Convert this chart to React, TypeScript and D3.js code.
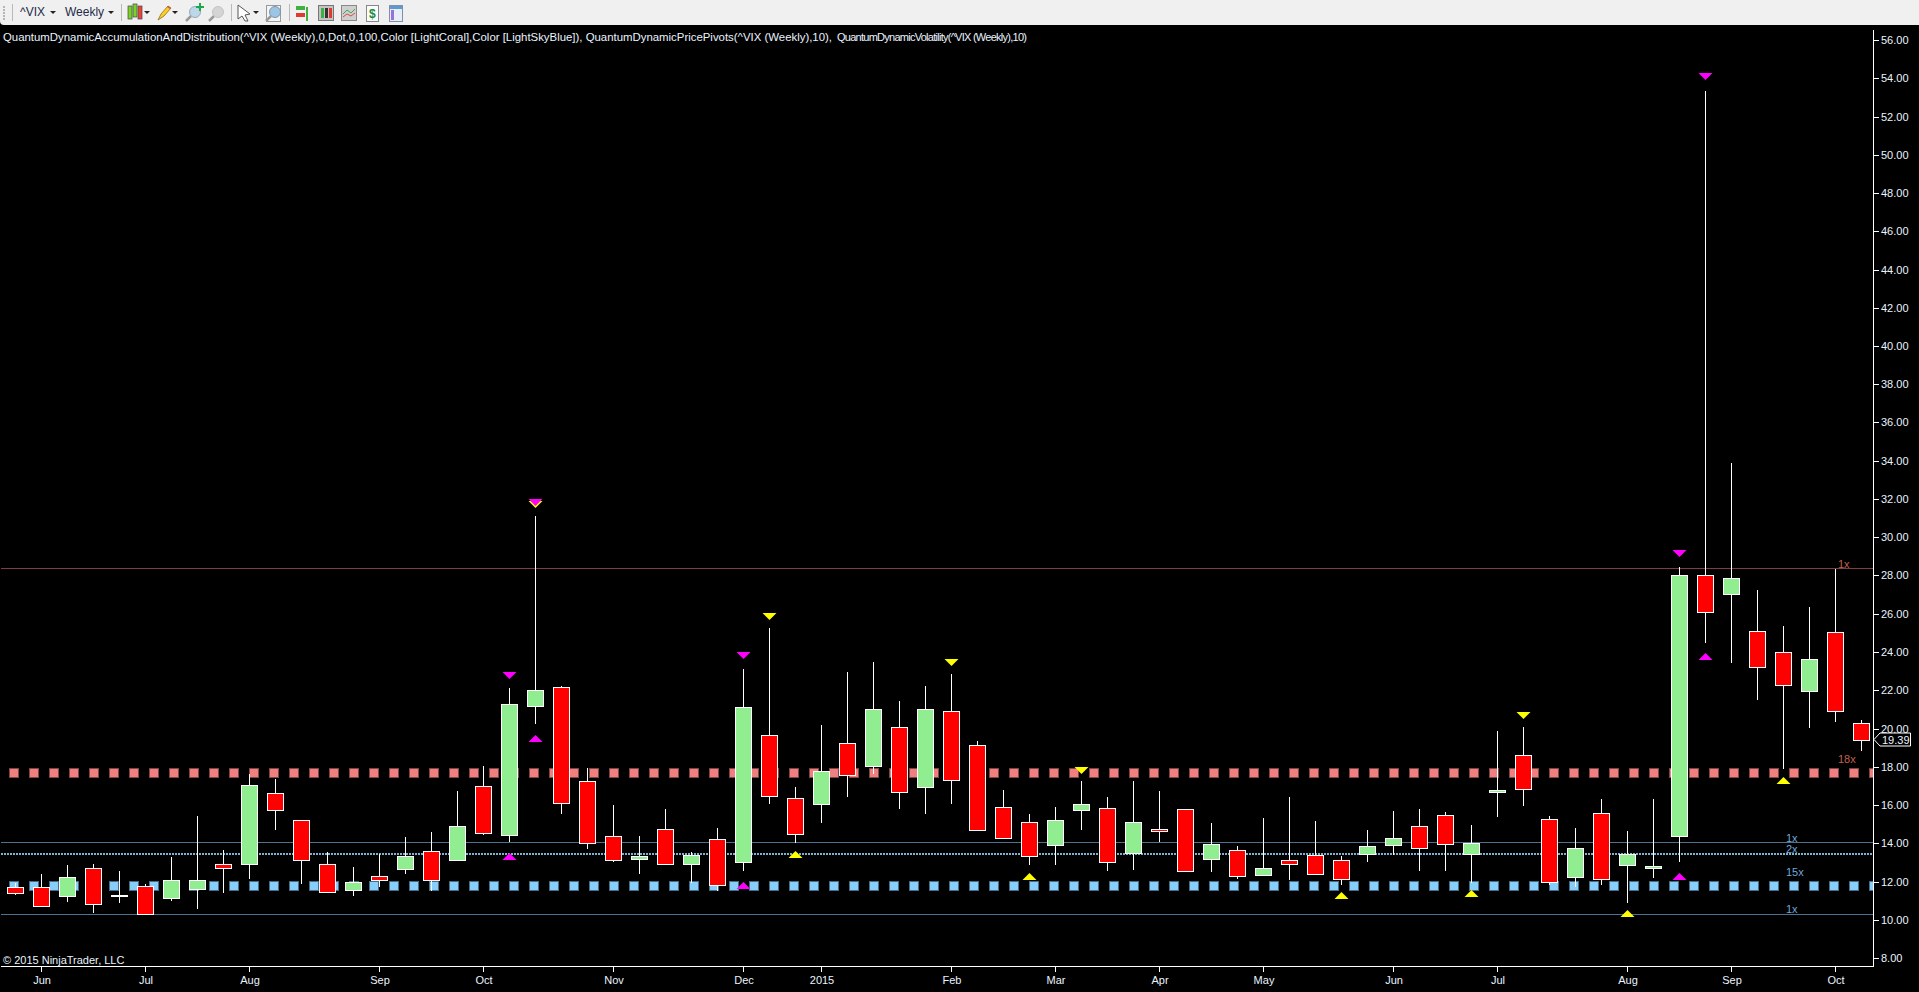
import React, { useEffect, useRef } from "react"
import * as d3 from "d3"

// weekly ^VIX candles
const highs = [11.9,12.38,12.85,12.91,12.54,11.86,13.27,15.42,13.64,17.61,17.35,15.19,13.53,12.75,13.45,14.32,14.58,16.73,18.03,22.11,31.11,22.22,17.93,15.99,14.37,15.78,13.53,14.79,23.1,25.25,16.93,20.17,22.95,23.47,21.43,22.22,22.84,19.34,16.78,15.52,15.89,17.25,16.41,17.25,16.72,15.77,15.05,13.85,15.31,16.41,15.15,13.32,14.68,15.68,15.78,15.66,14.95,19.85,20.07,15.41,14.8,16.3,14.62,16.3,28.43,53.33,33.87,27.23,25.34,26.33,28.36,20.43]
const tops = [11.69,11.69,12.21,12.68,11.27,11.79,12.1,12.1,12.89,17.07,16.65,15.19,12.89,12.0,12.31,13.31,13.57,14.88,16.97,21.26,21.99,22.15,17.23,14.4,13.31,14.72,13.36,14.2,21.1,19.64,16.34,17.8,19.22,21.0,20.1,21.0,20.89,19.16,15.87,15.09,15.24,16.03,15.82,15.09,14.77,15.77,13.94,13.67,12.73,13.15,13.36,13.1,13.88,14.25,14.88,15.5,14.03,16.8,18.63,15.29,13.77,15.6,13.42,12.83,28.05,28.05,27.85,25.08,24.02,23.66,25.02,20.31]
const bottoms = [11.41,10.73,11.23,10.83,11.27,10.31,11.14,11.62,12.71,12.92,15.75,13.13,11.46,11.56,12.09,12.66,12.09,13.13,14.54,14.44,21.19,16.12,14.02,13.13,13.19,12.92,12.92,11.82,13.03,16.48,14.49,16.06,17.58,18.05,16.69,16.95,17.32,14.7,14.28,13.34,13.92,15.75,13.03,13.5,14.65,12.56,13.18,12.3,12.35,12.89,12.4,12.14,13.45,13.92,13.76,13.97,13.44,16.69,16.86,11.95,12.24,12.14,12.87,12.73,14.36,26.07,27.05,23.23,22.29,21.97,20.94,19.39]
const lows = [11.28,10.73,10.92,10.34,10.87,10.24,10.97,10.55,11.41,12.12,14.68,11.86,11.46,11.23,11.69,12.4,11.51,13.13,14.42,14.06,20.23,15.52,13.69,13.01,12.38,12.92,11.93,11.51,12.54,16.05,14.02,15.05,16.41,17.61,15.78,15.52,16.05,14.7,14.28,12.85,12.85,14.68,12.54,12.59,14.04,12.49,12.49,12.12,12.35,12.07,12.33,11.81,13.01,13.38,12.56,12.54,11.9,15.37,15.96,11.8,11.71,11.8,10.88,12.18,13.0,24.49,23.42,21.48,17.86,20.02,20.33,18.81]
// up weeks drawn in light green, the rest red
const upWeeks = [2,6,7,9,13,15,17,19,20,24,26,28,31,33,35,40,41,43,46,48,52,53,56,57,60,62,63,64,66,69]

const monthTicks = [1,5,9,14,18,23,28,31,36,40,44,48,53,57,62,66,70]
const monthLabels = ["Jun","Jul","Aug","Sep","Oct","Nov","Dec","2015","Feb","Mar","Apr","May","Jun","Jul","Aug","Sep","Oct"]
const priceTicks = d3.range(8, 57, 2)

const downPivotsMagenta = [[19,22.97],[20,31.98],[28,23.98],[64,29.33],[65,54.26]]
const downPivotsYellow = [[20,31.87],[29,26.02],[36,23.61],[41,18.0],[58,20.84]]
const upPivotsMagenta = [[19,13.15],[20,19.3],[28,11.62],[64,12.08],[65,23.59]]
const upPivotsYellow = [[30,13.25],[39,12.1],[51,11.06],[56,11.17],[62,10.12],[68,17.12]]

const supplyLevel = 17.65
const demandLevel = 11.79
const resistanceLine = 28.37
const supportLines = [14.04, 10.29]
const dottedLine = 13.46
const lastPrice = 19.39

const font = "'Liberation Sans', Arial, sans-serif"
const txt = "#eaf4ff"

const App = () => {
  const ref = useRef<SVGSVGElement>(null)

  useEffect(() => {
    const svg = d3.select(ref.current)
    svg.selectAll("*").remove()

    const x = d3.scaleLinear().domain([0, 71]).range([15.5, 1861.5])
    const y = d3.scaleLinear().domain([8, 56]).rangeRound([958, 40])
    const axisX = 1873
    const axisY = 966

    svg.append("rect").attr("width", 1919).attr("height", 992).attr("fill", "#000")

    const clip = svg.append("clipPath").attr("id", "plot")
    clip.append("rect").attr("width", axisX).attr("height", axisY)
    const plot = svg.append("g").attr("clip-path", "url(#plot)")

    // horizontal levels
    plot.append("line").attr("x1", 1).attr("x2", axisX)
      .attr("y1", y(resistanceLine) + 0.5).attr("y2", y(resistanceLine) + 0.5)
      .attr("stroke", "#7e3f3f")
    plot.selectAll(".sup").data(supportLines).join("line")
      .attr("x1", 1).attr("x2", axisX)
      .attr("y1", d => y(d) + 0.5).attr("y2", d => y(d) + 0.5)
      .attr("stroke", "#4d7290")
    plot.append("line").attr("x1", 1).attr("x2", axisX)
      .attr("y1", y(dottedLine)).attr("y2", y(dottedLine))
      .attr("stroke", "#7fb2d0").attr("stroke-width", 2).attr("stroke-dasharray", "2 1")

    // accumulation / distribution dots, one every 20px
    const dotSlots = d3.range(0, 94).map(k => (k * 20 - 1) / 26)
    const dots = [
      { level: supplyLevel, fill: "#f08080", stroke: "#7d4646" },
      { level: demandLevel, fill: "#87cefa", stroke: "#466b85" },
    ]
    dots.forEach(row => {
      plot.append("g").selectAll("rect").data(dotSlots).join("rect")
        .attr("x", d => x(d) - 5)
        .attr("y", y(row.level) - 4.5)
        .attr("width", 9).attr("height", 9)
        .attr("fill", row.fill).attr("stroke", row.stroke)
    })

    // candles
    const candles = plot.append("g").selectAll("g").data(highs).join("g")
    candles.append("line")
      .attr("x1", (_, i) => x(i)).attr("x2", (_, i) => x(i))
      .attr("y1", d => y(d)).attr("y2", (_, i) => y(lows[i]))
      .attr("stroke", "#fff")
    candles.append("rect")
      .attr("x", (_, i) => x(i) - 8)
      .attr("y", (_, i) => y(tops[i]) + 0.5)
      .attr("width", 16)
      .attr("height", (_, i) => Math.max(y(bottoms[i]) - y(tops[i]), 1))
      .attr("fill", (_, i) => (upWeeks.includes(i) ? "#90ee90" : "#ff0000"))
      .attr("stroke", "#fff")

    // pivots
    const down = (d: number[]) => `M${x(d[0]) - 7},${y(d[1])}L${x(d[0]) + 7},${y(d[1])}L${x(d[0])},${y(d[1]) + 7}Z`
    const up = (d: number[]) => `M${x(d[0]) - 7},${y(d[1])}L${x(d[0]) + 7},${y(d[1])}L${x(d[0])},${y(d[1]) - 7}Z`
    plot.append("g").selectAll("path").data(downPivotsYellow).join("path").attr("d", down).attr("fill", "#ffff00")
    plot.append("g").selectAll("path").data(upPivotsYellow).join("path").attr("d", up).attr("fill", "#ffff00")
    plot.append("g").selectAll("path").data(downPivotsMagenta).join("path").attr("d", down).attr("fill", "#ff00ff")
    plot.append("g").selectAll("path").data(upPivotsMagenta).join("path").attr("d", up).attr("fill", "#ff00ff")

    // volume-at-level labels
    const levelLabels = [
      { t: "1x", px: 1838, v: resistanceLine, dy: 0, c: "#c0604f" },
      { t: "18x", px: 1838, v: supplyLevel, dy: -10, c: "#c0604f" },
      { t: "1x", px: 1786, v: supportLines[0], dy: 0, c: "#6fa8d8" },
      { t: "2x", px: 1786, v: dottedLine, dy: -1, c: "#6fa8d8" },
      { t: "15x", px: 1786, v: demandLevel, dy: -10, c: "#6fa8d8" },
      { t: "1x", px: 1786, v: supportLines[1], dy: -1, c: "#6fa8d8" },
    ]
    svg.append("g").selectAll("text").data(levelLabels).join("text")
      .attr("x", d => d.px).attr("y", d => y(d.v) + d.dy)
      .attr("fill", d => d.c).attr("font-family", font).attr("font-size", 11)
      .text(d => d.t)

    // axes
    const yAxis = d3.axisRight(y).tickValues(priceTicks).tickSize(6).tickPadding(2).tickFormat(d3.format(".2f") as any)
    const gy = svg.append("g").attr("transform", `translate(${axisX},0)`).call(yAxis)
    gy.select(".domain").remove()
    gy.selectAll("line").attr("stroke", "#fff")
    gy.selectAll("text").attr("fill", txt).attr("font-family", font).attr("font-size", 11).attr("x", 8)
    svg.append("line").attr("x1", axisX + 0.5).attr("x2", axisX + 0.5).attr("y1", 30).attr("y2", axisY + 1).attr("stroke", "#fff")

    const xAxis = d3.axisBottom(x).tickValues(monthTicks).tickSize(6).tickPadding(4)
      .tickFormat((_, i) => monthLabels[i])
    const gx = svg.append("g").attr("transform", `translate(0,${axisY})`).call(xAxis)
    gx.select(".domain").remove()
    gx.selectAll("line").attr("stroke", "#fff").attr("transform", "translate(-0.5,0)")
    gx.selectAll("text").attr("fill", txt).attr("font-family", font).attr("font-size", 11)
    svg.append("line").attr("x1", 1).attr("x2", axisX).attr("y1", axisY + 0.5).attr("y2", axisY + 0.5).attr("stroke", "#fff")

    // last price tag
    const ly = y(lastPrice) - 0.5
    svg.append("path")
      .attr("d", `M${axisX + 1},${ly}L${axisX + 7},${ly - 6.5}H1910.5V${ly + 6.5}H${axisX + 7}Z`)
      .attr("fill", "#000").attr("stroke", "#fff")
    svg.append("text").attr("x", 1882).attr("y", ly + 4).attr("fill", txt)
      .attr("font-family", font).attr("font-size", 11).text(lastPrice.toFixed(2))

    // header lines
    svg.append("text").attr("x", 3).attr("y", 41).attr("fill", txt).attr("font-family", font).attr("font-size", 11)
      .attr("textLength", 829).attr("lengthAdjust", "spacingAndGlyphs")
      .text("QuantumDynamicAccumulationAndDistribution(^VIX (Weekly),0,Dot,0,100,Color [LightCoral],Color [LightSkyBlue]), QuantumDynamicPricePivots(^VIX (Weekly),10),")
    svg.append("text").attr("x", 837).attr("y", 41).attr("fill", txt).attr("font-family", font).attr("font-size", 11)
      .attr("textLength", 190).attr("lengthAdjust", "spacing")
      .text("QuantumDynamicVolatility(^VIX (Weekly),10)")
    svg.append("text").attr("x", 3).attr("y", 964).attr("fill", txt).attr("font-family", font).attr("font-size", 11)
      .text("© 2015 NinjaTrader, LLC")

    // toolbar
    const bar = svg.append("g")
    bar.append("path").attr("d", "M0,0H1919V25H4Q0,25 0,21Z").attr("fill", "#f0f0f0")
    d3.range(5).forEach(k => bar.append("rect").attr("x", 3).attr("y", 6 + k * 3).attr("width", 2).attr("height", 2).attr("fill", "#b5b5b5"))
    ;[12, 121, 231, 289].forEach(s => bar.append("rect").attr("x", s).attr("y", 4).attr("width", 1).attr("height", 17).attr("fill", "#b9b9b9"))
    ;[[20, "^VIX"], [65, "Weekly"]].forEach(([px, t]) =>
      bar.append("text").attr("x", px).attr("y", 16).attr("fill", "#1e2b4a").attr("font-family", font).attr("font-size", 12).text(t as string))
    ;[53, 111, 147, 175, 256].forEach(a =>
      bar.append("path").attr("d", `M${a - 3},11H${a + 3}L${a},14Z`).attr("fill", "#222"))
    // candle icon
    ;[[128, "#7bd321", 6], [133, "#7bd321", 4], [138, "#ee4433", 6]].forEach(([px, c, top]) => {
      bar.append("rect").attr("x", px as number).attr("y", top as number).attr("width", 4).attr("height", 13)
        .attr("fill", c as string).attr("stroke", "#445").attr("stroke-width", 0.7)
    })
    // pencil
    bar.append("path").attr("d", "M158,20L161,14L168,6L171,8L164,16Z").attr("fill", "#f8d028").attr("stroke", "#8a6d1b").attr("stroke-width", 0.8)
    bar.append("path").attr("d", "M167,7L168,6L171,8L170,9Z").attr("fill", "#e05040")
    // magnifiers
    const lens = (cx: number, c: string, s: string) => {
      bar.append("line").attr("x1", cx - 4).attr("y1", 16).attr("x2", cx - 9).attr("y2", 21).attr("stroke", "#9a9a9a").attr("stroke-width", 2.5)
      bar.append("circle").attr("cx", cx).attr("cy", 12).attr("r", 5.5).attr("fill", c).attr("stroke", s)
    }
    lens(195, "#bcd6ea", "#9aa9b5")
    bar.append("path").attr("d", "M196,6H199V3H201V6H204V8H201V11H199V8H196Z").attr("fill", "#1aa84a")
    lens(218, "#d4d4d4", "#c4c4c4")
    // arrow cursor
    bar.append("path").attr("d", "M238,5L250,14L245,15L248,21L245,21L242,16L238,19Z").attr("fill", "#fff").attr("stroke", "#555")
    // zoom box
    bar.append("rect").attr("x", 266.5).attr("y", 5.5).attr("width", 14).attr("height", 16).attr("fill", "#f4f4f4").attr("stroke", "#9a9a9a")
    lens(275, "#9cc4e4", "#7c96ac")
    // chart tool icons
    bar.append("rect").attr("x", 296).attr("y", 6).attr("width", 9).attr("height", 4).attr("fill", "#40b040")
    bar.append("rect").attr("x", 296).attr("y", 13).attr("width", 9).attr("height", 4).attr("fill", "#e03a30")
    bar.append("rect").attr("x", 306).attr("y", 7).attr("width", 2).attr("height", 14).attr("fill", "#40b040")
    bar.append("rect").attr("x", 318.5).attr("y", 5.5).attr("width", 15).attr("height", 15).attr("fill", "#c4c4c4").attr("stroke", "#777")
    ;[[321, "#40b040"], [325, "#333"], [329, "#e03a30"]].forEach(([px, c]) =>
      bar.append("rect").attr("x", px as number).attr("y", 8).attr("width", 3).attr("height", 10).attr("fill", c as string))
    bar.append("rect").attr("x", 341.5).attr("y", 5.5).attr("width", 15).attr("height", 15).attr("fill", "#cfcfcf").attr("stroke", "#888")
    bar.append("path").attr("d", "M343,14L347,10L351,13L355,9").attr("fill", "none").attr("stroke", "#3aa850")
    bar.append("path").attr("d", "M343,17L347,14L351,16L355,13").attr("fill", "none").attr("stroke", "#e04a40")
    bar.append("rect").attr("x", 366.5).attr("y", 5.5).attr("width", 12).attr("height", 16).attr("fill", "#fbfbfb").attr("stroke", "#888")
    bar.append("text").attr("x", 369).attr("y", 18).attr("fill", "#1a8a3a").attr("font-family", font).attr("font-size", 12).attr("font-weight", "bold").text("$")
    bar.append("rect").attr("x", 389.5).attr("y", 5.5).attr("width", 13).attr("height", 16).attr("fill", "#e8eef6").attr("stroke", "#8090a8")
    bar.append("rect").attr("x", 390).attr("y", 6).attr("width", 12).attr("height", 3).attr("fill", "#5a9ad0")
    bar.append("rect").attr("x", 391).attr("y", 10).attr("width", 3).attr("height", 10).attr("fill", "#9a70e0")
  }, [])

  return <svg ref={ref} width={1919} height={992} style={{ position: "absolute", left: 0, top: 0, display: "block" }} />
}

export default App
